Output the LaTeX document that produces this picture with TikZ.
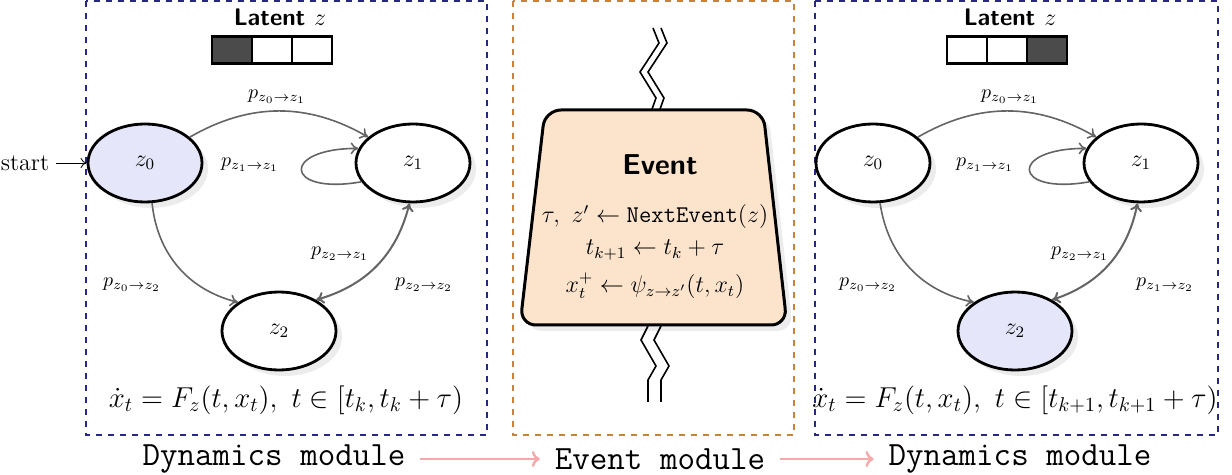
\documentclass[tikz,border=0pt]{standalone}
\usepackage{amsmath}
\usetikzlibrary{shadows,arrows.meta,shapes.geometric}
\definecolor{lav}{RGB}{230,230,250}
\definecolor{peach}{RGB}{252,228,204}
\definecolor{navy}{RGB}{40,40,130}
\definecolor{orng}{RGB}{200,130,60}
\definecolor{pinkar}{RGB}{245,170,170}
\definecolor{edgec}{RGB}{100,100,100}
\definecolor{dgray}{RGB}{75,75,75}
\tikzset{
 st/.style={ellipse,draw,line width=1.4pt,minimum width=57pt,minimum height=39pt,fill=white,inner sep=0pt,
   drop shadow={opacity=0.15,shadow xshift=3pt,shadow yshift=-3pt}},
 tr/.style={draw=edgec,line width=0.8pt,-{To[length=4pt,width=6pt]}},
 lb/.style={font=\normalsize},
 cell/.style={draw,line width=1.2pt,minimum width=20pt,minimum height=13.5pt,inner sep=0pt},
 modbox/.style={dashed,line width=0.6pt},
 modlab/.style={font=\ttfamily\fontsize{17}{20}\selectfont},
 wire/.style={line width=0.8pt},
 pinkarrow/.style={draw=pinkar,line width=1.2pt,-{To[length=4pt,width=8pt]},shorten <=4pt,shorten >=4pt},
}
\begin{document}
\begin{tikzpicture}[x=0.5pt,y=-0.5pt]
\useasboundingbox (0,0) rectangle (1232,475);
% module boxes
\draw[modbox,navy] (86,1) rectangle (487,435);
\draw[modbox,orng] (513,1) rectangle (794,435);
\draw[modbox,navy] (815,1) rectangle (1218,435);
% ---------- left module
\node[font=\sffamily\bfseries\large] (latL) at (280,17) {Latent \normalfont$z$};
\node[cell,fill=dgray] (cL1) at (232,50) {};
\node[cell] (cL2) at (272,50) {};
\node[cell] (cL3) at (312,50) {};
\node[st,fill=lav] (a0) at (145,163) {\large$z_0$};
\node[st] (a1) at (413,163) {\large$z_1$};
\node[st] (a2) at (279,331) {\large$z_2$};
\node (startL) at (25,163) {\large start};
\draw[-{To[length=3pt,width=5pt]},line width=0.4pt] (startL) -- (a0);
\draw[tr] (a0) to[bend left=30] (a1);
\draw[tr] (a1.200) to[out=190,in=180,looseness=6] (a1.165);
\draw[tr] (a0.280) to[bend right=35] (a2.145);
\draw[tr,{To[length=4pt,width=6pt]}-{To[length=4pt,width=6pt]},line width=1pt] (a2.40) to[bend right=30] (a1.265);
\node[lb] (l01) at (277,97) {$p_{z_0\to z_1}$};
\node[lb] (l11) at (250,165) {$p_{z_1\to z_1}$};
\node[lb] (l21) at (340,254) {$p_{z_2\to z_1}$};
\node[lb] (l02) at (132,285) {$p_{z_0\to z_2}$};
\node[lb] (l22) at (424,285) {$p_{z_2\to z_2}$};
\node[font=\Large] (eqL) at (286,400) {$\dot{x}_t = F_z(t,x_t),\ t\in[t_k,t_k+\tau)$};
% ---------- event module
\draw[wire] (653,28) -- (659,43) -- (640,72) -- (656,98) -- (651,112);
\draw[wire] (661,28) -- (667,43) -- (648,72) -- (664,98) -- (659,112);
\draw[line width=1.5pt,fill=peach,rounded corners=8pt,drop shadow={opacity=0.15,shadow xshift=3pt,shadow yshift=-3pt}]
  (545,110) -- (763,110) -- (787,325) -- (520,325) -- cycle;
\draw[wire] (648,326) -- (641,340) -- (656,366) -- (648,380) -- (648,402);
\draw[wire] (661,326) -- (654,340) -- (669,366) -- (661,380) -- (661,402);
\node[font=\sffamily\bfseries\Large] (evt) at (660,165) {Event};
\node[font=\large] (e1) at (655,217) {$\tau,\ z'\leftarrow \texttt{NextEvent}(z)$};
\node[font=\large] (e2) at (655,250) {$t_{k+1}\leftarrow t_k+\tau$};
\node[font=\large] (e3) at (655,286) {$x_t^+\leftarrow \psi_{z\to z'}(t,x_t)$};
% ---------- right module
\node[font=\sffamily\bfseries\large] (latR) at (1010,17) {Latent \normalfont$z$};
\node[cell] (cR1) at (967,50) {};
\node[cell] (cR2) at (1007,50) {};
\node[cell,fill=dgray] (cR3) at (1047,50) {};
\node[st] (b0) at (873,163) {\large$z_0$};
\node[st] (b1) at (1141,163) {\large$z_1$};
\node[st,fill=lav] (b2) at (1015,331) {\large$z_2$};
\draw[tr] (b0) to[bend left=30] (b1);
\draw[tr] (b1.200) to[out=190,in=180,looseness=6] (b1.165);
\draw[tr] (b0.280) to[bend right=35] (b2.145);
\draw[tr,{To[length=4pt,width=6pt]}-{To[length=4pt,width=6pt]},line width=1pt] (b2.40) to[bend right=30] (b1.265);
\node[lb] (m01) at (1010,97) {$p_{z_0\to z_1}$};
\node[lb] (m11) at (985,165) {$p_{z_1\to z_1}$};
\node[lb] (m21) at (1080,254) {$p_{z_2\to z_1}$};
\node[lb] (m02) at (868,285) {$p_{z_0\to z_2}$};
\node[lb] (m12) at (1165,285) {$p_{z_1\to z_2}$};
\node[font=\Large] (eqR) at (1015,400) {$\dot{x}_t = F_z(t,x_t),\ t\in[t_{k+1},t_{k+1}+\tau)$};
% ---------- bottom labels
\node[modlab] (dm1) at (274,459) {Dynamics module};
\node[modlab] (em) at (660,459) {Event module};
\node[modlab] (dm2) at (1020,459) {Dynamics module};
\draw[pinkarrow] (dm1) -- (em);
\draw[pinkarrow] (em) -- (dm2);
\end{tikzpicture}
\end{document}
